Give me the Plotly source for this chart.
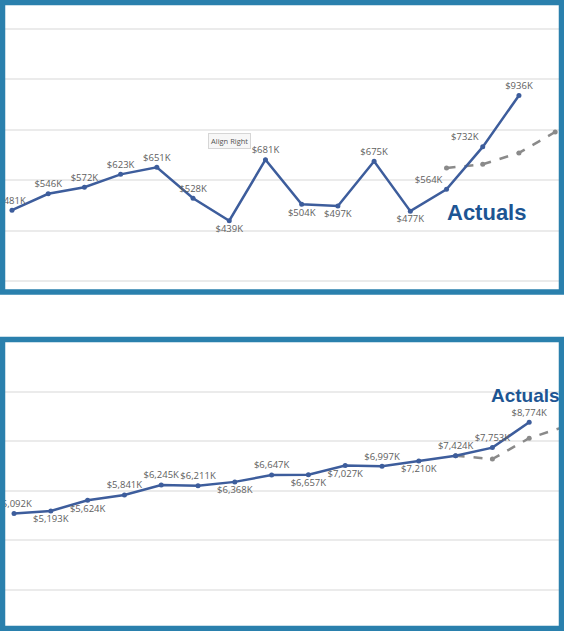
import plotly.graph_objects as go

W, H = 564, 631

# top panel: monthly sales ($K)
top_actual = [481, 546, 572, 623, 651, 528, 439, 681, 504, 497, 675, 477, 564, 732, 936]
top_label_pos = ["top center", "top center", "top center", "top center", "top center",
                 "top center", "bottom center", "top center", "bottom center", "bottom center",
                 "top center", "bottom center", "top left", "top left", "top center"]
top_forecast_x = [12, 13, 14, 15]
top_forecast = [648, 663, 708, 791]

# bottom panel: running total ($K)
bottom_actual = [5092, 5193, 5624, 5841, 6245, 6211, 6368, 6647, 6657, 7027, 6997, 7210, 7424, 7753, 8774]
bottom_label_pos = ["top center", "bottom center", "bottom center", "top center", "top center",
                    "top center", "bottom center", "top center", "bottom center", "bottom center",
                    "top center", "bottom center", "top center", "top center", "top center"]
bottom_forecast_x = [12, 13, 14, 15]
bottom_forecast = [7424, 7292, 8132, 8620]

BLUE = "#3d5d9c"
GREY = "#8a8a8a"
BORDER = "#2a80ad"
LABEL = "#5e5e5e"


def px(x):
    return x / W


def py(y):
    return 1 - y / H


def fmt(v):
    return "${:,}K".format(v)


fig = go.Figure()

# top
fig.add_trace(go.Scatter(
    x=top_forecast_x, y=top_forecast, mode="lines+markers",
    line=dict(color=GREY, width=2.5, dash="dash"), marker=dict(size=5, color=GREY),
    xaxis="x", yaxis="y", hoverinfo="skip"))
fig.add_trace(go.Scatter(
    x=list(range(len(top_actual))), y=top_actual, mode="lines+markers+text",
    text=[fmt(v) for v in top_actual], textposition=top_label_pos,
    textfont=dict(size=9.5, color=LABEL, family="Open Sans"),
    line=dict(color=BLUE, width=2.5), marker=dict(size=5, color=BLUE),
    xaxis="x", yaxis="y", hoverinfo="skip"))

# bottom
fig.add_trace(go.Scatter(
    x=bottom_forecast_x, y=bottom_forecast, mode="lines+markers",
    line=dict(color=GREY, width=2.5, dash="dash"), marker=dict(size=5, color=GREY),
    xaxis="x2", yaxis="y2", hoverinfo="skip"))
fig.add_trace(go.Scatter(
    x=list(range(len(bottom_actual))), y=bottom_actual, mode="lines+markers+text",
    text=[fmt(v) for v in bottom_actual], textposition=bottom_label_pos,
    textfont=dict(size=9.5, color=LABEL, family="Open Sans"),
    line=dict(color=BLUE, width=2.5), marker=dict(size=5, color=BLUE),
    xaxis="x2", yaxis="y2", hoverinfo="skip"))

xcommon = dict(showgrid=False, zeroline=False, showticklabels=False, showline=False,
               domain=[px(5), px(559)])
ycommon = dict(showgrid=True, gridcolor="#ebebeb", gridwidth=1.5, zeroline=False,
               showticklabels=False, showline=False)

fig.update_layout(
    width=W, height=H,
    margin=dict(l=0, r=0, t=0, b=0),
    paper_bgcolor="white", plot_bgcolor="white",
    showlegend=False,
    xaxis=dict(xcommon, range=[-0.193, 15.106]),
    yaxis=dict(ycommon, range=[168, 1295], dtick=200, domain=[py(289), py(5)]),
    xaxis2=dict(xcommon, range=[-0.245, 14.81], anchor="y2"),
    yaxis2=dict(ycommon, range=[545, 12020], dtick=2000, domain=[py(626), py(342)], anchor="x2"),
    shapes=[
        dict(type="rect", xref="paper", yref="paper", layer="above",
             x0=px(2.5), x1=px(561.5), y0=py(292), y1=py(2.5),
             line=dict(color=BORDER, width=5.5)),
        dict(type="rect", xref="paper", yref="paper", layer="above",
             x0=px(2.5), x1=px(561.5), y0=py(628.5), y1=py(339.5),
             line=dict(color=BORDER, width=5.5)),
    ],
    annotations=[
        dict(text="<b>Actuals</b>", xref="paper", yref="paper", x=px(445), y=py(212),
             xanchor="left", yanchor="middle", showarrow=False,
             font=dict(size=22, color="#1d5593", family="Liberation Sans")),
        dict(text="<b>Actuals</b>", xref="paper", yref="paper", x=px(489), y=py(395.5),
             xanchor="left", yanchor="middle", showarrow=False,
             font=dict(size=19, color="#1d5593", family="Liberation Sans")),
        dict(text="Align Right", xref="paper", yref="paper", x=px(229), y=py(141),
             xanchor="center", yanchor="middle", showarrow=False,
             bgcolor="#f7f7f7", bordercolor="#d6d6d6", borderwidth=1, borderpad=2,
             font=dict(size=7.5, color="#555555", family="Open Sans")),
    ],
)

# page body has a default 8px margin; drop it so the figure sits at the window's corner
fig.write_html("out.html", config={"displayModeBar": False},
               post_script="document.body.style.margin='0';")
